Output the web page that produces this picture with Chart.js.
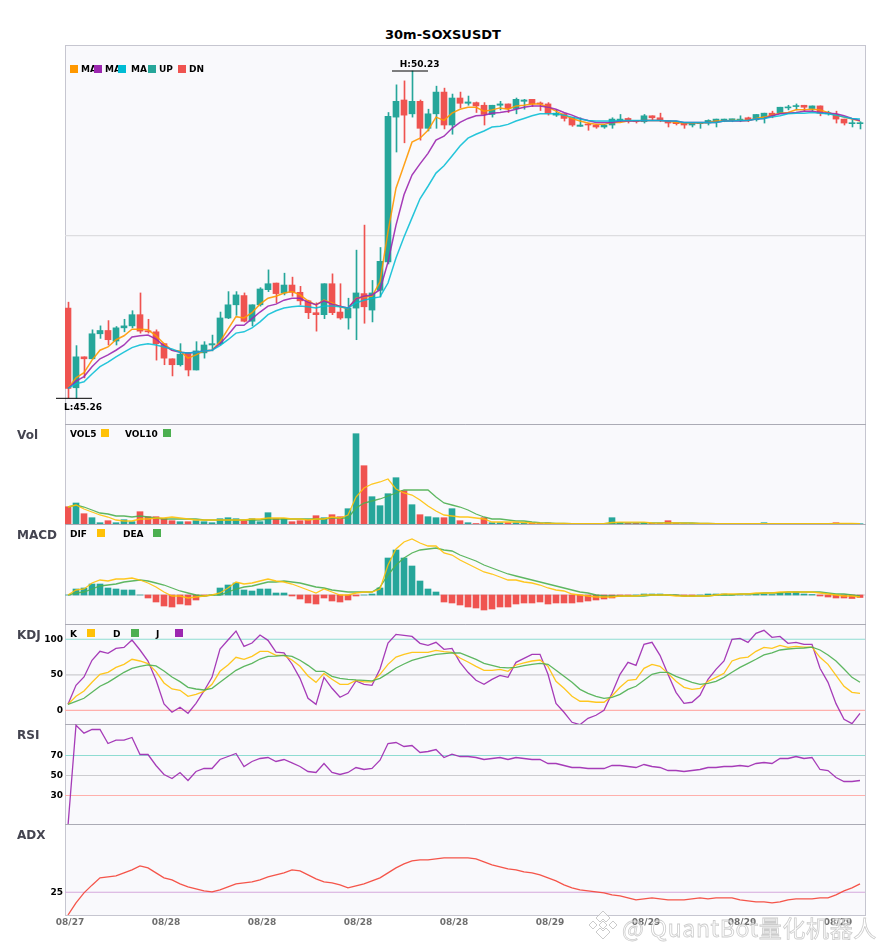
<!DOCTYPE html>
<html>
<head>
<meta charset="utf-8">
<title>30m-SOXSUSDT</title>
<script src="https://cdn.jsdelivr.net/npm/chart.js@4"></script>
<style>
    html, body { margin: 0; padding: 0; background: #fff; }
    body { position: relative; width: 885px; height: 950px; overflow: hidden; font-family: "DejaVu Sans", sans-serif; }
    canvas { position: absolute; left: 0; }
    .txt { position: absolute; white-space: nowrap; font-weight: bold; transform: translateY(-50%); z-index: 5; }
    .swatch { position: absolute; width: 8px; height: 8px; z-index: 6; }
    #mark { position: absolute; left: 622px; top: 927px; transform: translateY(-50%); z-index: 8; white-space: nowrap;
        font: 23px "Noto Sans CJK SC", sans-serif; letter-spacing: 0.6px; color: rgba(255,255,255,0.55);
        -webkit-text-stroke: 0.8px rgba(170,170,170,0.6); }
    #logo { position: absolute; left: 588px; top: 910px; z-index: 8; }
</style>
</head>
<body>
<canvas id="mainChart" width="885" height="380" style="top:45px"></canvas>
<canvas id="volChart" width="885" height="101" style="top:424px"></canvas>
<canvas id="macdChart" width="885" height="101" style="top:524px"></canvas>
<canvas id="kdjChart" width="885" height="101" style="top:624px"></canvas>
<canvas id="rsiChart" width="885" height="101" style="top:724px"></canvas>
<canvas id="adxChart" width="885" height="111" style="top:824px"></canvas>
<svg id="logo" width="30" height="30" viewBox="0 0 30 30">
    <g fill="rgba(255,255,255,0.6)" stroke="rgba(175,175,175,0.65)" stroke-width="1">
        <polygon points="15,1 22,8 18,12 15,9 12,12 8,8"/>
        <polygon points="15,29 22,22 18,18 15,21 12,18 8,22"/>
        <polygon points="1,15 5,11 9,15 5,19"/>
        <polygon points="29,15 25,11 21,15 25,19"/>
        <polygon points="15,11 19,15 15,19 11,15"/>
    </g>
</svg>
<div id="mark">@ QuantBot量化机器人</div>

<script>
// Candles
const opens = [46.63,45.42,45.89,45.86,46.24,46.29,46.13,46.33,46.36,46.53,46.28,46.27,46.09,45.86,45.77,45.95,45.69,45.95,46.07,46.09,
    46.48,46.68,46.82,46.43,46.68,46.91,47.01,46.86,46.98,46.87,46.74,46.56,46.53,47.00,46.57,46.48,46.63,46.85,46.60,46.90,
    47.33,49.53,49.79,49.58,49.77,49.36,49.58,49.91,49.41,49.82,49.74,49.75,49.71,49.57,49.71,49.73,49.66,49.77,49.80,49.74,
    49.73,49.56,49.58,49.52,49.39,49.42,49.41,49.38,49.41,49.47,49.51,49.47,49.46,49.55,49.52,49.47,49.46,49.44,49.41,49.43,
    49.44,49.46,49.47,49.49,49.48,49.52,49.49,49.52,49.59,49.59,49.67,49.69,49.71,49.66,49.70,49.58,49.57,49.50,49.43,49.43];
const highs = [46.72,46.06,45.89,46.30,46.36,46.44,46.35,46.46,46.59,46.86,46.46,46.30,46.09,45.86,46.09,45.95,46.12,46.12,46.22,46.57,
    46.88,46.88,46.86,46.68,46.94,47.21,47.01,47.16,47.10,46.96,46.75,46.71,47.00,47.15,47.00,46.78,47.51,47.89,47.05,47.55,
    49.60,50.02,50.08,50.23,49.79,49.65,50.00,49.97,49.88,49.91,49.85,49.76,49.75,49.71,49.77,49.73,49.82,49.80,49.80,49.76,
    49.75,49.64,49.58,49.52,49.52,49.44,49.42,49.42,49.52,49.57,49.52,49.48,49.57,49.55,49.59,49.47,49.46,49.44,49.44,49.44,
    49.49,49.50,49.50,49.50,49.55,49.53,49.57,49.59,49.62,49.68,49.71,49.73,49.71,49.70,49.70,49.62,49.62,49.50,49.49,49.46];
const lows = [45.27,45.26,45.57,45.86,46.17,46.07,46.07,46.27,46.33,46.25,46.25,45.84,45.77,45.60,45.75,45.60,45.69,45.87,45.98,46.07,
    46.47,46.52,46.42,46.36,46.66,46.88,46.71,46.83,46.81,46.68,46.47,46.28,46.47,46.53,46.46,46.31,46.15,46.40,46.42,46.80,
    47.30,49.00,49.14,49.53,49.18,49.32,49.36,49.35,49.27,49.67,49.71,49.60,49.41,49.53,49.64,49.60,49.58,49.65,49.69,49.63,
    49.56,49.54,49.47,49.39,49.39,49.33,49.36,49.36,49.36,49.46,49.44,49.44,49.44,49.49,49.46,49.38,49.41,49.36,49.38,49.36,
    49.41,49.38,49.46,49.46,49.46,49.46,49.47,49.44,49.52,49.59,49.64,49.64,49.62,49.62,49.55,49.56,49.44,49.41,49.38,49.35];
const closes = [45.41,45.89,45.86,46.24,46.29,46.15,46.33,46.36,46.53,46.28,46.27,46.09,45.87,45.77,45.93,45.69,45.98,46.07,46.09,46.48,
    46.68,46.83,46.43,46.68,46.92,47.00,46.85,46.98,46.87,46.74,46.56,46.53,47.00,46.56,46.48,46.63,46.86,46.65,46.86,47.34,
    49.54,49.77,49.56,49.77,49.36,49.58,49.91,49.41,49.82,49.74,49.76,49.70,49.57,49.71,49.73,49.66,49.80,49.79,49.73,49.73,
    49.59,49.59,49.51,49.41,49.41,49.41,49.38,49.41,49.50,49.50,49.48,49.46,49.55,49.52,49.49,49.44,49.43,49.41,49.44,49.44,
    49.48,49.50,49.50,49.50,49.50,49.48,49.57,49.59,49.55,49.68,49.68,49.70,49.68,49.70,49.59,49.59,49.50,49.44,49.44,49.44];

// Moving averages
const maShort = [45.41,45.57,45.65,45.84,45.99,46.04,46.15,46.21,46.31,46.31,46.30,46.21,46.09,45.99,45.98,45.87,45.92,45.98,45.99,46.12,
    46.31,46.50,46.48,46.56,46.69,46.78,46.81,46.86,46.88,46.83,46.74,46.68,46.75,46.71,46.65,46.62,46.78,46.80,46.81,47.03,
    47.79,48.45,48.80,49.15,49.21,49.33,49.53,49.48,49.59,49.65,49.68,49.68,49.62,49.64,49.67,49.65,49.70,49.71,49.73,49.73,
    49.68,49.62,49.56,49.51,49.47,49.44,49.42,49.42,49.45,49.45,49.47,49.47,49.48,49.48,49.48,49.47,49.45,49.44,49.44,49.44,
    49.45,49.47,49.47,49.48,49.48,49.48,49.51,49.53,49.56,49.59,49.60,49.64,49.64,49.65,49.64,49.60,49.56,49.53,49.50,49.47];
const maMid = [45.41,45.52,45.59,45.74,45.86,45.92,45.99,46.07,46.19,46.21,46.22,46.16,46.06,45.99,45.96,45.95,45.96,45.98,45.99,46.09,
    46.22,46.37,46.37,46.47,46.57,46.66,46.69,46.75,46.78,46.78,46.72,46.68,46.74,46.69,46.66,46.63,46.77,46.81,46.83,46.91,
    47.33,47.89,48.35,48.65,48.82,48.98,49.18,49.24,49.36,49.45,49.51,49.55,49.56,49.59,49.60,49.62,49.65,49.68,49.70,49.70,
    49.68,49.65,49.60,49.56,49.51,49.48,49.45,49.45,49.45,49.47,49.47,49.47,49.48,49.48,49.48,49.47,49.47,49.45,49.45,49.45,
    49.45,49.45,49.47,49.47,49.47,49.48,49.50,49.51,49.55,49.58,49.59,49.60,49.62,49.62,49.60,49.59,49.58,49.55,49.51,49.48];
const maLong = [45.41,45.48,45.51,45.63,45.74,45.81,45.89,45.96,46.03,46.07,46.09,46.07,46.04,46.01,45.96,45.95,45.96,45.98,45.99,46.06,
    46.15,46.25,46.27,46.33,46.42,46.53,46.59,46.63,46.65,46.66,46.65,46.63,46.66,46.66,46.65,46.63,46.71,46.75,46.78,46.80,
    47.01,47.39,47.71,48.00,48.29,48.48,48.68,48.79,48.94,49.09,49.21,49.27,49.32,49.38,49.39,49.42,49.47,49.51,49.55,49.58,
    49.58,49.58,49.56,49.53,49.50,49.48,49.47,49.47,49.47,49.48,49.48,49.48,49.48,49.48,49.48,49.47,49.47,49.45,49.45,49.45,
    49.45,49.45,49.47,49.47,49.48,49.48,49.50,49.51,49.53,49.55,49.58,49.59,49.59,49.60,49.59,49.58,49.56,49.53,49.51,49.50];

// Volume
const volume = [17.3,21,10.3,6.3,1.3,3.3,1.3,4.3,2.3,12.3,7.3,7.3,5.3,3.3,2.3,2.3,3.3,2.3,1.3,5.3,
    6.3,5.3,3.3,5.3,2.3,11.3,5.3,5.3,2.3,3.3,4.3,8.3,6.3,9.3,7.3,15.3,90.3,58.3,27.3,18.3,
    30.3,46.3,33.3,19.3,9.3,7.3,6.3,6.3,15.3,3.3,1.3,0.5,6.3,1.3,1.3,1.3,1.3,1,1,0.6,
    1,0.6,0.3,0.3,0.3,0.3,0.3,0.3,6.3,1.3,0.6,0.6,1,0.6,0.6,3.3,0.6,0.3,0.3,0.3,
    0.3,0.3,0.3,0.3,0.3,0.3,0.3,1.3,0.3,0.3,0.3,0.3,0.3,0.3,0.3,0.3,1.3,0.3,0.3,0.3];
const vol5 = [17,19,15,12,9,7,4,3,3,5,5,6,6,7,6,5,4,4,4,4,
    4,4,4,5,5,6,6,6,5,5,4,5,5,7,6,9,27,36,40,42,
    45,35,31,29,24,18,13,9,8,7,7,6,5,2,2,2,2,1.5,1,0.8,
    0.7,0.6,0.5,0.4,0.4,0.4,0.4,0.4,1.5,1.8,1.8,1.8,1.8,1,0.8,1,1,0.9,0.8,0.7,
    0.5,0.4,0.3,0.3,0.3,0.3,0.3,0.4,0.4,0.4,0.3,0.3,0.3,0.3,0.3,0.3,0.5,0.5,0.5,0.4];
const vol10 = [17,19,17,14,11,10,8,8,7,8,7,6,5,5,5,5,5,4,4,4,
    4,4,4,4,4,5,5,5,5,5,5,5,5,6,6,6,16,21,23,25,
    28,31,34,34,34,34,27,21,19,17,14,10,7,5,5,4,3,3,2,1.3,
    1,0.7,0.5,0.4,0.4,0.4,0.4,0.4,1,1.1,1.2,1.2,1.2,1.2,1.2,1.2,1.2,1,1,0.7,
    0.5,0.4,0.3,0.3,0.3,0.3,0.3,0.3,0.3,0.3,0.3,0.3,0.3,0.3,0.3,0.3,0.4,0.4,0.4,0.4];

// MACD
const macdHist = [0,0.06,0.07,0.11,0.11,0.07,0.06,0.05,0.05,0,-0.03,-0.07,-0.11,-0.12,-0.09,-0.10,-0.05,-0.01,0,0.07,
    0.10,0.12,0.05,0.04,0.06,0.06,0.02,0.02,-0.01,-0.04,-0.08,-0.09,-0.03,-0.06,-0.07,-0.05,-0.01,0,0.01,0.07,
    0.37,0.45,0.37,0.29,0.14,0.06,0.03,-0.07,-0.08,-0.10,-0.12,-0.13,-0.15,-0.14,-0.12,-0.12,-0.09,-0.08,-0.08,-0.07,
    -0.09,-0.08,-0.08,-0.08,-0.07,-0.06,-0.05,-0.04,-0.03,-0.01,-0.005,0,0.01,0.01,0.01,0,-0.005,-0.01,-0.01,0,
    0.01,0.01,0.01,0.005,0,0,0.005,0.01,0.005,0.02,0.02,0.03,0.01,0.005,-0.01,-0.02,-0.03,-0.03,-0.035,-0.025];
const dif = [0,0.05,0.06,0.12,0.15,0.14,0.16,0.16,0.17,0.15,0.12,0.08,0.03,-0.01,-0.01,-0.03,-0.02,-0.01,0,0.02,
    0.07,0.13,0.11,0.12,0.14,0.16,0.14,0.13,0.11,0.08,0.05,0.02,0.06,0.03,0,0,0.02,0.03,0.03,0.06,
    0.30,0.46,0.53,0.56,0.52,0.49,0.49,0.42,0.40,0.35,0.31,0.27,0.23,0.21,0.18,0.15,0.15,0.13,0.12,0.10,
    0.07,0.05,0.04,0.01,0,-0.01,-0.02,-0.02,-0.02,-0.01,-0.01,-0.01,0,0,0,0,-0.01,-0.01,-0.01,-0.01,
    -0.01,0,0.01,0.01,0.01,0.01,0.02,0.02,0.02,0.03,0.03,0.03,0.03,0.03,0.02,0.01,0,-0.01,-0.01,-0.02];
const dea = [0,0.02,0.03,0.06,0.09,0.10,0.11,0.13,0.14,0.15,0.14,0.12,0.10,0.07,0.04,0.02,0,-0.01,0,0,
    0.03,0.06,0.08,0.09,0.11,0.13,0.13,0.14,0.13,0.12,0.10,0.08,0.07,0.05,0.04,0.03,0.03,0.03,0.03,0.08,
    0.20,0.30,0.37,0.42,0.45,0.46,0.47,0.45,0.44,0.40,0.37,0.34,0.30,0.27,0.24,0.21,0.19,0.17,0.15,0.13,
    0.11,0.09,0.07,0.05,0.03,0.02,0,-0.01,-0.01,-0.01,-0.01,-0.01,-0.01,0,0,0,0,-0.01,-0.01,-0.01,
    -0.01,0,0,0,0.01,0.01,0.01,0.02,0.02,0.02,0.03,0.03,0.03,0.03,0.03,0.02,0.01,0.01,0,-0.01];

// KDJ
const kdjK = [8.4,19.7,27.2,39.4,50.7,53.5,60.5,64.7,71.8,69.4,65.7,54.4,38.5,30,28.1,19.7,22.5,26.7,36.6,54.9,
    63.8,74.6,71.8,76,83,83,77.4,77.4,70.8,61.9,48.3,39.4,52,43.6,36.6,36.6,42.2,39.9,39.9,50.7,
    64.7,75,78.8,81.6,81.6,81.6,84.4,82.5,81.6,73.6,68,61.9,56.3,56.3,57.7,54.9,63.8,66.6,69.4,70.8,
    61.9,40.8,31,19.7,12.7,12.7,11.3,11.3,20.2,32.4,42.2,43.6,59.1,64.7,61.9,52,40.8,32.4,29.5,31,
    40.8,46.4,52,69.4,73.6,75,83,88.6,87.2,91.5,88.6,90,89,89,74.6,64.7,49.2,33.8,25.3,23.9];
const kdjD = [8.4,12.7,16.9,25.3,33.8,39.4,46.4,53.5,59.1,61.9,63.8,62.4,55.3,46.9,40.3,32.4,30,28.6,31,39.4,
    47.8,56.3,61.9,66.1,72.2,76,76.4,77.4,76,70.4,63.3,54.9,54.9,47.8,45,43.6,42.7,42.2,41.3,45,
    52,59.6,65.2,70.4,73.6,76.4,78.8,79.7,80.7,80.7,76.4,71.8,66.1,63.3,60.5,59.6,60.5,62.8,64.7,66.1,
    64.7,56.3,47.8,39.4,29.5,23.9,19.7,16.9,18.3,22.5,29.5,33.8,42.2,50.7,53.5,53.5,47.8,43.6,39.4,36.6,
    38,40.8,46.4,53.5,60.5,66.1,71.8,77.9,80.7,84.9,86.3,87.2,87.7,89,84.9,77.9,69.4,58.2,46.4,39.4];
const kdjJ = [8.4,35.2,46.9,70.4,83,80.2,87.2,88.6,99,84.9,69.4,42.7,8.9,-2.8,4.2,-4.2,9.8,27.2,46.4,86.3,
    99,111.6,90,94.7,106,98.5,82,80.7,65.2,45,16.9,8.4,46.4,31,18.3,23.9,41.3,36.6,35.2,58.2,
    94.7,106.9,105.5,104,94.3,91.5,95.7,85.8,87.2,67.5,53.5,42.2,36.6,43.6,49.2,46.4,67.5,73.2,78.8,78.8,
    50.7,9.8,-2.8,-16.9,-20.2,-11.3,-7,0,23.9,50.7,67.5,63.3,92.9,95.7,77.4,50.7,25.3,9.8,11.3,21.1,
    43.6,57.7,69.4,99.9,101.3,95.7,108.3,112.6,102.7,104,94.3,95.7,92.9,92.9,59.1,39.4,9.4,-12.7,-18.8,-4.2];

// RSI and ADX
const rsi = [0,100.3,92.3,96,96,82,85.3,85.3,88,71,71,60,51,47,53,45,54,57,57,66,
    69,72,59,64,67,68,64,66,62.7,59,54,53,62,53,51,53,58,56,57,65.3,
    82,83,79,80,73,74,76,68,71.3,69,69,68,66,67,68,66,68,67,66,66,
    62,62,60,58,58,57,57,57,60,60,59,58,61,59,58,55,55,54,55,56,
    58,58,59,59,60,59,62,63,62,67,67,69,67,68,56,55,48,44,44,45];
const adx = [0,13.4,24.3,32.8,40.8,41.9,43,46.3,49.6,54,51.8,46.3,40.8,38.6,34.2,30.9,28.7,26.5,25.4,27.6,
    30.9,34.2,35.3,36.4,38.6,41.9,44.1,46.3,49.6,48.5,44.1,39.7,36.4,35.3,33.1,29.8,32,34.2,37.5,40.8,
    46.3,51.8,56.2,59.5,60.6,60.6,61.7,62.8,62.8,62.8,62.8,61.7,58.4,55.1,52.9,50.7,49.6,47.4,46.3,44.1,
    40.8,37.5,33.1,29.8,27.6,26.5,25.4,24.3,22.1,21,18.9,16.7,17.8,18.9,17.8,16.7,16.7,16.7,17.8,18.9,
    17.8,18.9,18.9,18.9,16.7,15.6,14.5,14.5,13.4,14.5,16.7,17.8,17.8,17.8,18.9,18.9,22.1,26.5,29.8,34.2];

// Time axis
const timeTickIndex = [0, 12, 24, 36, 48, 60, 72, 84, 96];
const timeTickLabels = ['08/27', '08/28', '08/28', '08/28', '08/28', '08/29', '08/29', '08/29', '08/29'];

// Indicator levels
const kdjLevels = [0, 50, 100];
const rsiLevels = [30, 50, 70];
const adxLevels = [25];
const macdLevels = [0];
const mainLevels = [47.73];

const X_MIN = -0.375;
const X_MAX = 99.625;
const UP = '#26A69A';
const DOWN = '#EF5350';
const ORANGE = 'rgba(255,152,0,0.9)';
const PURPLE = 'rgba(156,39,176,0.9)';
const CYAN = 'rgba(0,188,212,0.85)';
const YELLOW = 'rgba(255,193,7,0.9)';
const GREEN = 'rgba(76,175,80,0.9)';
const LEVEL_HIGH = '#8FDCD2';
const LEVEL_MID = '#CCCCD0';
const LEVEL_LOW = '#FFB0AC';
const TICK_FONT = { family: '"DejaVu Sans"', size: 9, weight: 'bold' };

const points = arr => arr.map((v, i) => ({ x: i, y: v }));
const candleColor = (o, i) => closes[i] >= opens[i] ? UP : DOWN;

function lineSet(data, color, width) {
    return {
        type: 'line',
        data: points(data),
        borderColor: color,
        borderWidth: width || 1.3,
        pointRadius: 0,
        tension: 0,
        order: 0
    };
}

function barSet(data, colors) {
    return {
        type: 'bar',
        data: points(data),
        backgroundColor: colors,
        barThickness: 6,
        grouped: false,
        order: 1
    };
}

// horizontal guide lines, drawn behind every other dataset
function levelSets(levels, colors) {
    return levels.map((v, i) => ({
        type: 'line',
        data: [{ x: X_MIN, y: v }, { x: X_MAX, y: v }],
        borderColor: colors[i],
        borderWidth: 1.2,
        pointRadius: 0,
        order: 5
    }));
}

// background and frame of a panel, under everything else
function framePlugin(topColor) {
    return {
        id: 'frame',
        beforeDraw(chart) {
            const a = chart.chartArea;
            const c = chart.ctx;
            c.save();
            c.fillStyle = '#F9F9FC';
            c.fillRect(a.left, a.top, a.width, a.height);
            c.strokeStyle = '#C6C6D0';
            c.lineWidth = 1;
            c.strokeRect(a.left + 0.5, a.top + 0.5, a.width, a.height);
            c.strokeStyle = topColor;
            c.beginPath();
            c.moveTo(a.left, a.top + 0.5);
            c.lineTo(a.right + 1, a.top + 0.5);
            c.stroke();
            c.restore();
        }
    };
}

// axis labels must not add room above or below the plot area
function noScalePadding(axis) {
    axis.paddingTop = 0;
    axis.paddingBottom = 0;
    axis.paddingLeft = 0;
    axis.paddingRight = 0;
}

function panelOptions(yMin, yMax, levels, showLabels, showTime) {
    return {
        responsive: false,
        animation: false,
        events: [],
        layout: { padding: { top: 0, right: 20, bottom: showTime ? 0 : 1, left: 0 } },
        plugins: { legend: { display: false }, tooltip: { enabled: false } },
        scales: {
            x: {
                type: 'linear',
                display: showTime,
                offset: false,
                min: X_MIN,
                max: X_MAX,
                border: { display: false },
                grid: { display: false, offset: false, tickLength: 0 },
                afterBuildTicks: axis => { axis.ticks = timeTickIndex.map(v => ({ value: v })); },
                afterFit: axis => {
                    noScalePadding(axis);
                    axis.height = showTime ? 20 : 0;
                },
                ticks: {
                    autoSkip: false,
                    maxRotation: 0,
                    padding: 2,
                    labelOffset: 2,
                    color: '#6e6e6e',
                    font: TICK_FONT,
                    callback: v => timeTickLabels[timeTickIndex.indexOf(v)]
                }
            },
            y: {
                min: yMin,
                max: yMax,
                border: { display: false },
                grid: { display: false, drawTicks: false },
                afterBuildTicks: axis => { axis.ticks = levels.map(v => ({ value: v })); },
                afterFit: axis => {
                    noScalePadding(axis);
                    axis.width = 65;
                },
                ticks: {
                    display: showLabels,
                    autoSkip: false,
                    padding: 2,
                    color: '#000',
                    font: TICK_FONT
                }
            }
        }
    };
}

function addText(text, x, y, size, color) {
    const el = document.createElement('div');
    el.className = 'txt';
    el.textContent = text;
    el.style.left = x + 'px';
    el.style.top = y + 'px';
    el.style.fontSize = size + 'px';
    el.style.color = color;
    document.body.appendChild(el);
    return el;
}

function addSwatch(x, y, color) {
    const el = document.createElement('div');
    el.className = 'swatch';
    el.style.left = x + 'px';
    el.style.top = y + 'px';
    el.style.background = color;
    document.body.appendChild(el);
}

window.onload = function() {
    const wicks = highs.map((h, i) => ({ x: i + 0.0625, y: [lows[i], h] }));
    const bodies = opens.map((o, i) => ({ x: i, y: [o, closes[i]] }));
    const colors = opens.map(candleColor);

    const highAt = highs.indexOf(Math.max(...highs));
    const lowAt = lows.indexOf(Math.min(...lows));

    // marks the highest and lowest candle with a short bar and its price
    const extremes = {
        id: 'extremes',
        afterDatasetsDraw(chart) {
            const c = chart.ctx;
            c.save();
            c.font = 'bold 9px "DejaVu Sans"';
            c.fillStyle = '#000';
            c.textAlign = 'center';
            c.textBaseline = 'middle';
            const xs = chart.scales.x;
            const ys = chart.scales.y;
            c.fillText('H:' + highs[highAt].toFixed(2), xs.getPixelForValue(highAt + 0.95), ys.getPixelForValue(highs[highAt]) - 6.5);
            c.fillText('L:' + lows[lowAt].toFixed(2), xs.getPixelForValue(lowAt + 0.875), ys.getPixelForValue(lows[lowAt]) + 9.5);
            c.restore();
        }
    };

    new Chart(document.getElementById('mainChart'), {
        type: 'bar',
        data: {
            datasets: [
                ...levelSets(mainLevels, ['#DDDDE0']),
                { type: 'bar', data: wicks, backgroundColor: colors, barThickness: 1, grouped: false, order: 3 },
                { type: 'bar', data: bodies, backgroundColor: colors, barThickness: 6, grouped: false, minBarLength: 1, order: 2 },
                lineSet(maLong, CYAN, 1.5),
                lineSet(maMid, PURPLE, 1.5),
                lineSet(maShort, ORANGE, 1.5),
                { type: 'line', data: [{ x: highAt - 2.5, y: highs[highAt] }, { x: highAt + 2, y: highs[highAt] }], borderColor: '#000', borderWidth: 1, pointRadius: 0, order: 0 },
                { type: 'line', data: [{ x: lowAt - 2.5, y: lows[lowAt] }, { x: lowAt + 2, y: lows[lowAt] }], borderColor: '#000', borderWidth: 1, pointRadius: 0, order: 0, clip: false }
            ]
        },
        options: panelOptions(44.87, 50.625, mainLevels, false, false),
        plugins: [framePlugin('#C6C6D0'), extremes]
    });

    new Chart(document.getElementById('volChart'), {
        type: 'bar',
        data: { datasets: [barSet(volume, colors), lineSet(vol5, YELLOW), lineSet(vol10, GREEN)] },
        options: panelOptions(0, 100, [], false, false),
        plugins: [framePlugin('#ABABB5')]
    });

    new Chart(document.getElementById('macdChart'), {
        type: 'bar',
        data: { datasets: [...levelSets(macdLevels, [LEVEL_MID]), barSet(macdHist, macdHist.map(v => v >= 0 ? UP : DOWN)), lineSet(dif, YELLOW), lineSet(dea, GREEN)] },
        options: panelOptions(-0.29, 0.71, macdLevels, false, false),
        plugins: [framePlugin('#ABABB5')]
    });

    new Chart(document.getElementById('kdjChart'), {
        type: 'line',
        data: { datasets: [...levelSets(kdjLevels, [LEVEL_LOW, LEVEL_MID, LEVEL_HIGH]), lineSet(kdjD, GREEN), lineSet(kdjK, YELLOW), lineSet(kdjJ, PURPLE)] },
        options: panelOptions(-19.3, 121.5, kdjLevels, true, false),
        plugins: [framePlugin('#ABABB5')]
    });

    new Chart(document.getElementById('rsiChart'), {
        type: 'line',
        data: { datasets: [...levelSets(rsiLevels, [LEVEL_LOW, LEVEL_MID, LEVEL_HIGH]), lineSet(rsi, PURPLE)] },
        options: panelOptions(1.5, 101.5, rsiLevels, true, false),
        plugins: [framePlugin('#ABABB5')]
    });

    new Chart(document.getElementById('adxChart'), {
        type: 'line',
        data: { datasets: [...levelSets(adxLevels, ['#D4A8DC']), lineSet(adx, 'rgba(244,67,54,0.9)')] },
        options: panelOptions(0, 100, adxLevels, true, true),
        plugins: [framePlugin('#ABABB5')]
    });

    // title and panel captions
    addText('30m-SOXSUSDT', 385, 34, 13, '#000');
    [['Vol', 435], ['MACD', 535], ['KDJ', 635], ['RSI', 735], ['ADX', 835]].forEach(p => addText(p[0], 17, p[1], 12, '#444450'));

    // legends, squares sit above their text as in the original
    [['MA', 81, '#FF9800', 70], ['MA', 105, '#9C27B0', 94], ['MA', 131, '#00BCD4', 118], ['UP', 159, UP, 148], ['DN', 189, DOWN, 178]].forEach(l => {
        addText(l[0], l[1], 69, 9, '#000');
        addSwatch(l[3], 65, l[2]);
    });
    [['VOL5', 70, '#FFC107', 100.5, 433], ['VOL10', 125, '#4CAF50', 163, 433],
     ['DIF', 70, '#FFC107', 97, 533], ['DEA', 123, '#4CAF50', 153, 533],
     ['K', 70, '#FFC107', 87, 633], ['D', 113, '#4CAF50', 131, 633], ['J', 156, '#9C27B0', 175, 633]].forEach(l => {
        addText(l[0], l[1], l[4] + 1, 9, '#000');
        addSwatch(l[3], l[4] - 4, l[2]);
    });
};
</script>
</body>
</html>
